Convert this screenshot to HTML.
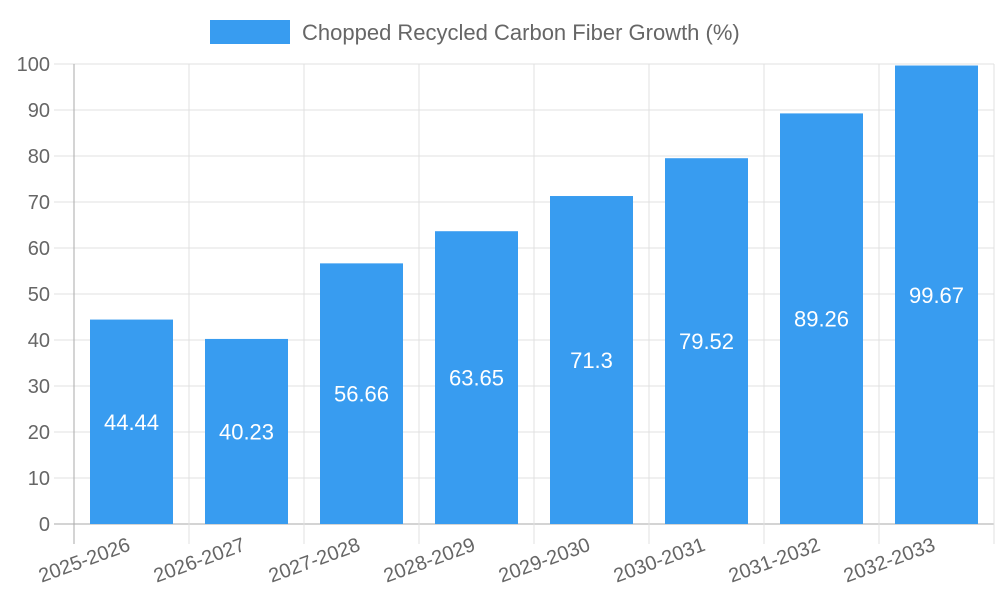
<!DOCTYPE html>
<html><head><meta charset="utf-8"><style>body{margin:0;background:#fff}svg{display:block;font-family:"Liberation Sans",sans-serif}</style></head>
<body>
<svg id="c" width="1000" height="600">
<rect x="210" y="20" width="80" height="24" fill="#389cf0"/>
<text x="302" y="40" font-size="22" fill="#666">Chopped Recycled Carbon Fiber Growth (%)</text>
<g id="grid"></g><g id="bars"></g><g id="labels"></g>
</svg>
<script>
const categories=["2025-2026","2026-2027","2027-2028","2028-2029","2029-2030","2030-2031","2031-2032","2032-2033"];
const values=[44.44,40.23,56.66,63.65,71.3,79.52,89.26,99.67];
const yTicks=[0,10,20,30,40,50,60,70,80,90,100];
const NS="http://www.w3.org/2000/svg";
const L=74,R=994,T=64,B=524,yMax=100;
const bw=(R-L)/categories.length;
const y=v=>B-(v/yMax)*(B-T);
const x=i=>L+i*bw;
function mk(t,a,p){const e=document.createElementNS(NS,t);for(const k in a)e.setAttribute(k,a[k]);p.appendChild(e);return e;}
const g=document.getElementById('grid'),bg=document.getElementById('bars'),lg=document.getElementById('labels');
yTicks.forEach(t=>{
 const l=mk('line',{x1:54,x2:R,y1:y(t),y2:y(t),stroke:t===0?'#aaa':'#e0e0e0','stroke-width':1},g);
 
 const tx=mk('text',{x:50,y:y(t)+7,'text-anchor':'end','font-size':20,fill:'#666'},g);tx.textContent=t;
 
});
for(let i=0;i<=categories.length;i++){
 const l=mk('line',{x1:x(i),x2:x(i),y1:T,y2:B+20,stroke:i===0?'#aaa':'#e0e0e0','stroke-width':1},g);
 
}
categories.forEach((c,i)=>{
 const cx=x(i)+bw/2,v=values[i];
 const r=mk('rect',{x:cx-41.5,y:y(v),width:83,height:B-y(v),fill:'#389cf0'},bg);
 
 const t=mk('text',{x:cx,y:(y(v)+B)/2+8,'text-anchor':'middle','font-size':22,fill:'#fff'},lg);t.textContent=v;
 
 const xl=mk('text',{x:cx,y:550,'text-anchor':'end','font-size':20,fill:'#666',transform:`rotate(-20 ${cx} 550)`},lg);xl.textContent=c;
 
});
</script>
</body></html>
